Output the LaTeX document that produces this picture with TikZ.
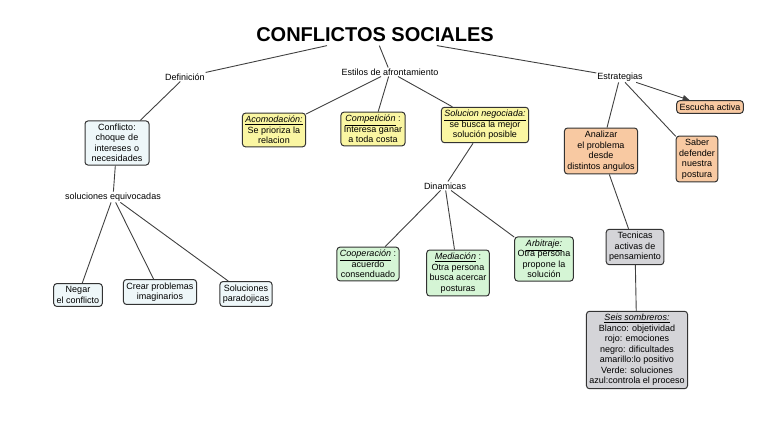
\documentclass[tikz,border=0pt]{standalone}
\usepackage{fontspec}
\setmainfont{Liberation Sans}
\usepackage{tikz}
\usetikzlibrary{arrows.meta}
\definecolor{defblue}{HTML}{EEF7F9}
\definecolor{estyel}{HTML}{FAF6A2}
\definecolor{dingreen}{HTML}{D5F5D5}
\definecolor{strorange}{HTML}{F8C9A2}
\definecolor{tecgray}{HTML}{D4D4D8}
\tikzset{
  concept/.style={draw=black!80, line width=1pt, rounded corners=3pt, align=center, font=\fontsize{9}{10.5}\selectfont, inner sep=3pt},
  lbl/.style={font=\fontsize{9}{10}\selectfont, inner sep=1pt},
  link/.style={draw=black!75, line width=0.9pt}
}
\begin{document}
\begin{tikzpicture}[x=1pt,y=-1pt]
\useasboundingbox (0,0) rectangle (768,433);
\node[font=\bfseries\fontsize{20}{22}\selectfont] (title) at (375,35) {CONFLICTOS SOCIALES};

\node[lbl] (def) at (185,77) {Definición};
\node[lbl] (est) at (390,72) {Estilos de afrontamiento};
\node[lbl] (str) at (620,77) {Estrategias};

\node[concept, fill=defblue, text width=58pt] (conf) at (117,143) {Conflicto:\\choque de\\intereses o\\necesidades};
\node[lbl] (soleq) at (113,197) {soluciones equivocadas};
\node[concept, fill=defblue] (negar) at (78,295) {Negar\\el conflicto};
\node[concept, fill=defblue] (crear) at (160,292) {Crear problemas\\imaginarios};
\node[concept, fill=defblue] (parad) at (246,294) {Soluciones\\paradojicas};

\node[concept, fill=estyel] (acom) at (274,130) {\underline{\itshape Acomodación:}\\Se prioriza la\\relacion};
\node[concept, fill=estyel] (comp) at (373,129) {\underline{\itshape Competición} :\\Interesa ganar\\a toda costa};
\node[concept, fill=estyel] (nego) at (485,125) {\underline{\itshape Solucion negociada:}\\se busca la mejor\\solución posible};

\node[lbl] (din) at (445,186) {Dinamicas};
\node[concept, fill=dingreen] (coop) at (368,264) {\underline{\itshape Cooperación} :\\acuerdo\\consenduado};
\node[concept, fill=dingreen] (medi) at (458,273) {\underline{\itshape Mediación} :\\Otra persona\\busca acercar\\posturas};
\node[concept, fill=dingreen] (arbi) at (544,259) {\underline{\itshape Arbitraje:}\\Otra persona\\propone la\\solución};

\node[concept, fill=strorange] (anal) at (601,151) {Analizar\\el problema\\desde\\distintos angulos};
\node[concept, fill=strorange] (escu) at (710,107) {Escucha activa};
\node[concept, fill=strorange] (sabe) at (697,159) {Saber\\defender\\nuestra\\postura};
\node[concept, fill=tecgray] (tecn) at (635,247) {Tecnicas\\activas de\\pensamiento};
\node[concept, fill=tecgray] (seis) at (637,350) {\underline{\itshape Seis sombreros:}\\Blanco: objetividad\\rojo: emociones\\negro: dificultades\\amarillo:lo positivo\\Verde: soluciones\\azul:controla el proceso};

% links
\draw[link] (title) -- (def);
\draw[link] (title) -- (est);
\draw[link] (title) -- (str);
\draw[link] (def) -- (conf);
\draw[link] (conf) -- (soleq);
\draw[link] (soleq) -- (negar);
\draw[link] (soleq) -- (crear);
\draw[link] (soleq) -- (parad);
\draw[link] (est) -- (acom);
\draw[link] (est) -- (comp);
\draw[link] (est) -- (nego);
\draw[link] (nego) -- (din);
\draw[link] (din) -- (coop);
\draw[link] (din) -- (medi);
\draw[link] (din) -- (arbi);
\draw[link] (str) -- (anal);
\draw[link, -{Triangle[length=7pt,width=6pt]}] (str) -- (escu);
\draw[link] (str) -- (sabe);
\draw[link] (anal) -- (tecn);
\draw[link] (tecn) -- (seis);
\end{tikzpicture}
\end{document}
